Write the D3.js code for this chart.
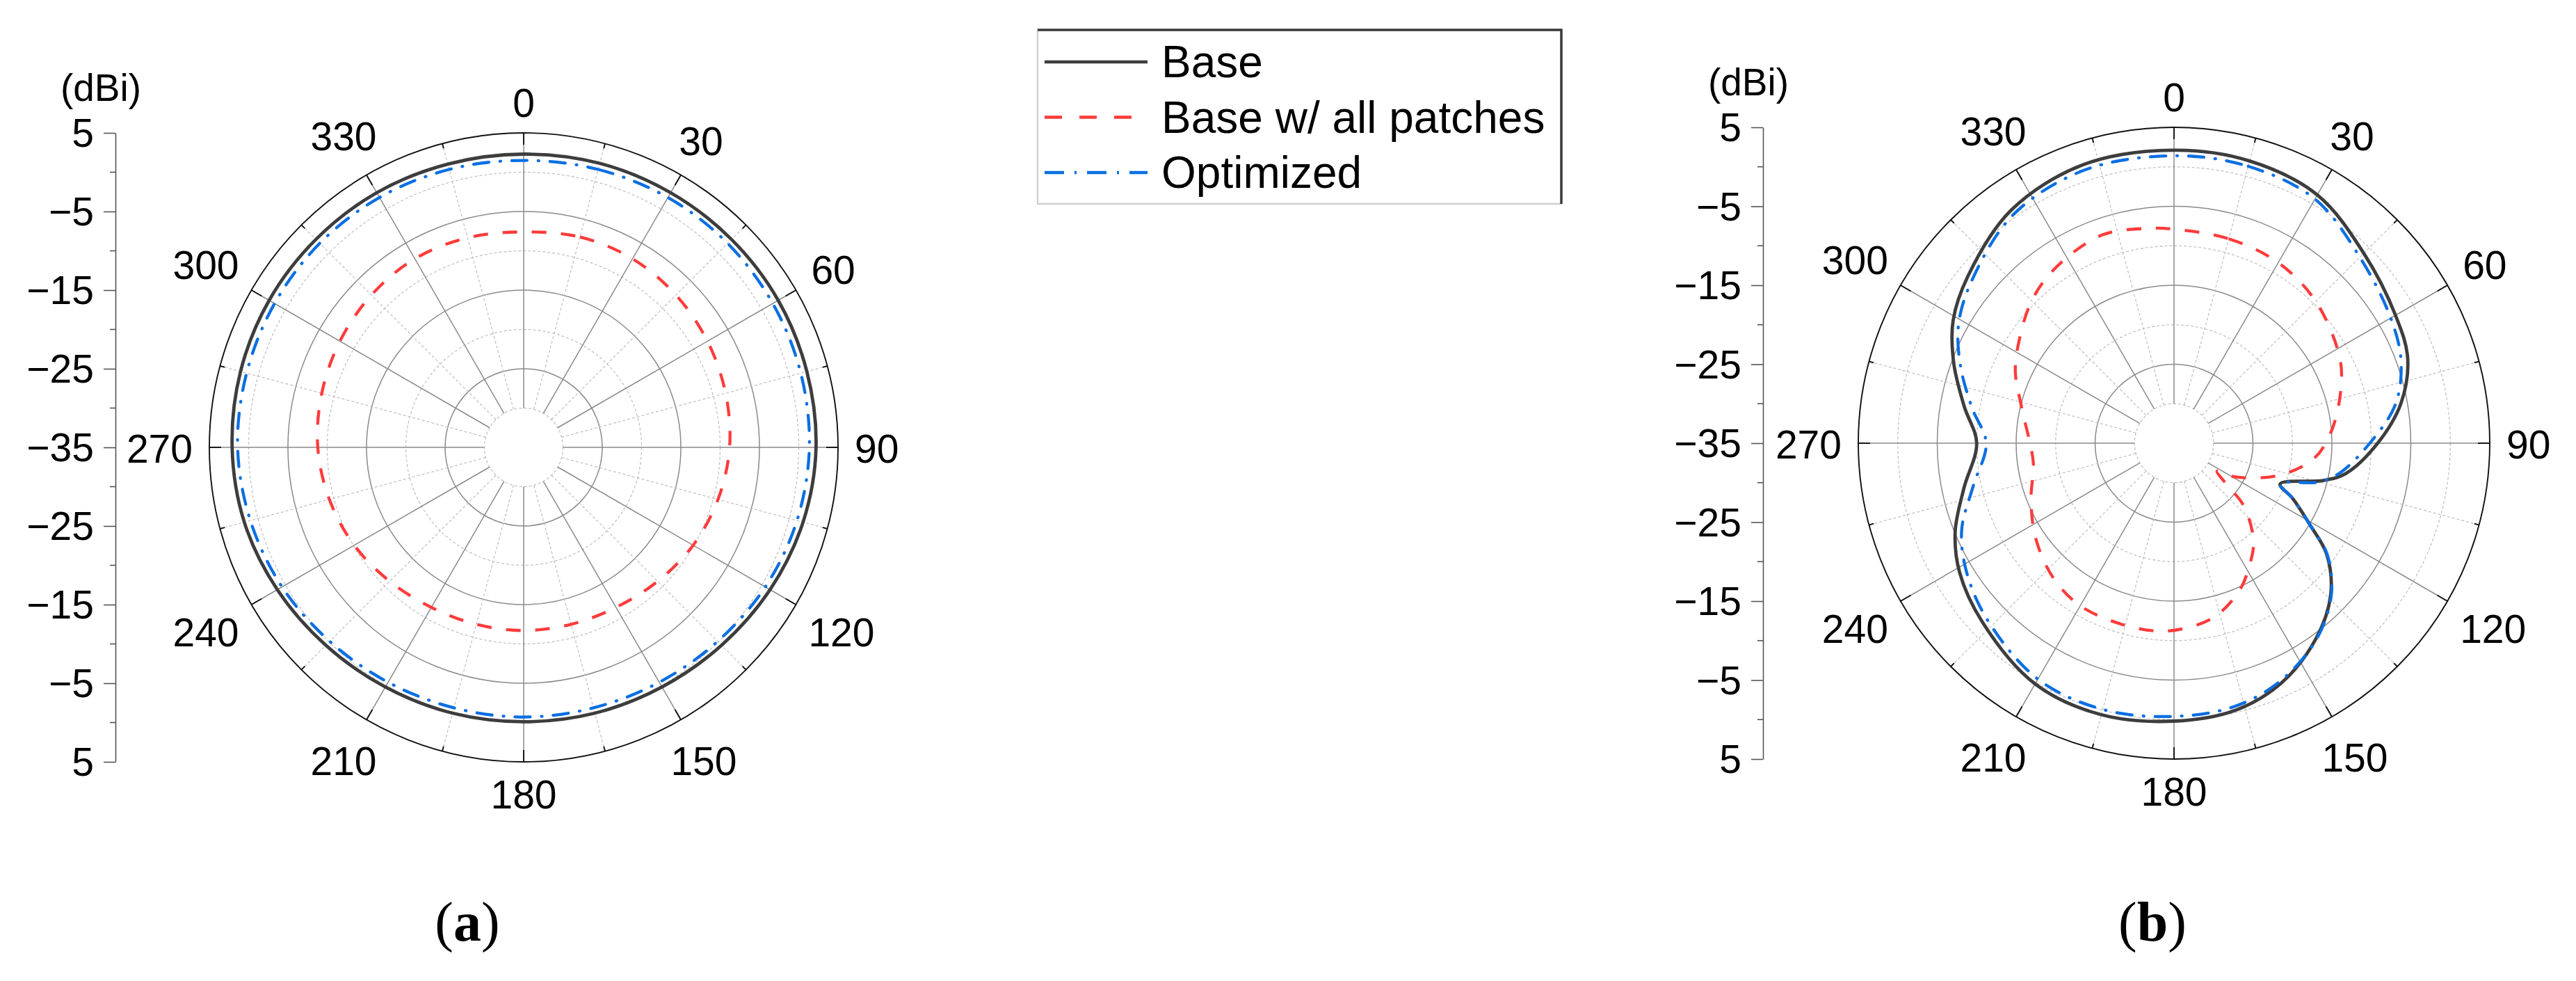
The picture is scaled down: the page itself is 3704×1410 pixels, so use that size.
<!DOCTYPE html>
<html>
<head>
<meta charset="utf-8">
<script src="https://cdn.jsdelivr.net/npm/d3@7"></script>
<style>
  html, body { margin: 0; padding: 0; background: #fff; }
  svg { display: block; }
  text { font-family: "Liberation Sans", Arial, sans-serif; fill: #000; }
</style>
</head>
<body>
<svg id="chart" width="3704" height="1410"></svg>
<script>
// angle labels (deg, clockwise from top) and radial axis labels (top -> bottom)
const angleLabels = d3.range(0, 360, 30);
const radialLabels = [5, -5, -15, -25, -35, -25, -15, -5, 5];
const seriesNames = ["Base", "Base w/ all patches", "Optimized"];

// (a) gain in dBi, sampled every 15 deg
const aAngles = d3.range(0, 360, 15);
const aBase = [2.3, 2.4, 2.4, 2.4, 2.4, 2.3, 2.2, 1.8, 1.2, 0.6, 0.2, 0.0,
               -0.1, 0.0, 0.2, 0.6, 1.2, 1.8, 2.1, 2.3, 2.4, 2.4, 2.4, 2.3];
const aPatches = [-7.6, -7.3, -7.3, -7.6, -8.0, -8.4, -8.8, -9.4, -10.1, -10.9, -11.5, -11.7,
                  -11.7, -11.7, -11.5, -10.9, -10.1, -9.4, -8.8, -8.4, -8.0, -7.6, -7.3, -7.4];
const aOptimized = [1.5, 1.6, 1.7, 1.7, 1.6, 1.5, 1.35, 1.0, 0.5, -0.1, -0.5, -0.7,
                    -0.7, -0.7, -0.5, -0.1, 0.5, 1.0, 1.4, 1.5, 1.6, 1.7, 1.7, 1.6];

// (b) gain in dBi, read at irregular angles
const bBaseAngles = [0, 15, 30, 45, 60, 70, 80, 90, 100, 104, 111, 115, 121, 126, 134, 144, 156, 167,
                     180, 195, 210, 227, 239, 248, 258, 270, 280, 290, 299, 309, 325, 342];
const bBase = [2.1, 2.0, 1.3, -1.0, -2.6, -3.5, -5.8, -9.2, -12.9, -15.5, -20.6, -18.4, -14.9, -11.1, -7.4, -4.4, -1.7, -0.3,
               0.2, 0.6, 0.2, -1.8, -3.3, -5.1, -7.8, -10.0, -8.0, -5.3, -3.0, -1.4, 1.0, 2.1];
const bOptAngles = [0, 15, 30, 45, 60, 70, 80, 90, 100, 105, 111, 115, 121, 126, 134, 144, 156, 167,
                    180, 195, 210, 227, 239, 248, 258, 270, 280, 290, 299, 309, 325, 342];
const bOptimized = [1.4, 1.3, 0.7, -1.7, -3.3, -4.4, -6.5, -10.2, -13.6, -16.0, -20.6, -18.4, -14.9, -11.0, -7.3, -4.3, -2.0, -0.8,
                    -0.4, -0.1, -0.5, -2.5, -4.2, -6.0, -9.0, -11.2, -9.0, -6.2, -3.8, -2.1, 0.4, 1.4];
const bPatchAngles = [0, 15, 30, 45, 62, 71, 85, 96, 107, 119, 123, 128, 132, 141, 149, 156, 167,
                      180, 191, 209, 222, 236, 249, 262, 283, 294, 302, 315, 326, 341, 353];
const bPatches = [-7.9, -8.2, -8.6, -9.6, -11.3, -12.6, -14.9, -17.1, -21.1, -26.2, -28.5, -26.6, -23.1, -19.0, -16.6, -14.6, -12.4,
                  -11.3, -11.1, -11.2, -12.1, -13.8, -15.6, -17.0, -15.2, -13.0, -11.7, -9.5, -8.2, -7.1, -7.6];

const colors = {base: "#3d3d3d", patches: "#ff3b3b", optimized: "#0a6fe2"};

const svg = d3.select("#chart");
const zip = (angles, values) => angles.map((a, i) => ({a, v: values[i]}));
const fmt = d3.format("d");

function drawPolar(cx, cy, R, axisX, series, panel, panelX) {
  const r = d3.scaleLinear().domain([-35, 5]).range([0, R]);
  const rad = d => d * Math.PI / 180;
  const g = svg.append("g").attr("transform", `translate(${cx},${cy})`);

  // rings
  g.selectAll("circle.minor").data([-30, -20, -10, 0]).join("circle")
      .attr("r", d => r(d)).attr("fill", "none")
      .attr("stroke", "#c2c2c2").attr("stroke-width", 1.3).attr("stroke-dasharray", "4,3");
  g.selectAll("circle.major").data([-25, -15, -5]).join("circle")
      .attr("r", d => r(d)).attr("fill", "none")
      .attr("stroke", "#8a8a8a").attr("stroke-width", 1.5);

  // spokes
  const r0 = r(-30);
  g.selectAll("line.minor").data(d3.range(15, 360, 30)).join("line")
      .attr("x1", d => r0 * Math.sin(rad(d))).attr("y1", d => -r0 * Math.cos(rad(d)))
      .attr("x2", d => R * Math.sin(rad(d))).attr("y2", d => -R * Math.cos(rad(d)))
      .attr("stroke", "#c2c2c2").attr("stroke-width", 1.3).attr("stroke-dasharray", "4,3");
  g.selectAll("line.major").data(angleLabels).join("line")
      .attr("x1", d => r0 * Math.sin(rad(d))).attr("y1", d => -r0 * Math.cos(rad(d)))
      .attr("x2", d => R * Math.sin(rad(d))).attr("y2", d => -R * Math.cos(rad(d)))
      .attr("stroke", "#8a8a8a").attr("stroke-width", 1.5);

  // outer circle + ticks
  g.append("circle").attr("r", R).attr("fill", "none").attr("stroke", "#111").attr("stroke-width", 1.9);
  g.selectAll("line.tick").data(d3.range(0, 360, 15)).join("line")
      .attr("x1", d => R * Math.sin(rad(d))).attr("y1", d => -R * Math.cos(rad(d)))
      .attr("x2", d => (R - (d % 30 ? 7 : 17)) * Math.sin(rad(d)))
      .attr("y2", d => -(R - (d % 30 ? 7 : 17)) * Math.cos(rad(d)))
      .attr("stroke", "#111").attr("stroke-width", 1.9);

  // curves
  const line = d3.lineRadial()
      .angle(d => rad(d.a)).radius(d => r(d.v))
      .curve(d3.curveCatmullRomClosed.alpha(0.5));
  g.append("path").datum(series.base).attr("d", line).attr("fill", "none")
      .attr("stroke", colors.base).attr("stroke-width", 4.8);
  g.append("path").datum(series.patches).attr("d", line).attr("fill", "none")
      .attr("stroke", colors.patches).attr("stroke-width", 4.3).attr("stroke-dasharray", "21,21");
  g.append("path").datum(series.optimized).attr("d", line).attr("fill", "none")
      .attr("stroke", colors.optimized).attr("stroke-width", 4.3)
      .attr("stroke-linecap", "round").attr("stroke-dasharray", "22,16,1,16");

  // angle labels
  const gap = 24;
  g.selectAll("text.ang").data(angleLabels).join("text")
      .attr("font-size", 57).attr("text-anchor", "middle").attr("dominant-baseline", "central")
      .text(d => d)
      .each(function (d) {
        const w = this.getComputedTextLength() / 2, h = 21;
        const s = Math.sin(rad(d)), c = Math.cos(rad(d));
        const dist = R + gap + Math.abs(s) * w + Math.abs(c) * h;
        d3.select(this).attr("x", dist * s).attr("y", -dist * c + 2);
      });

  // radial axis on the left
  const y = d3.scaleLinear().domain([0, 80]).range([cy - R, cy + R]);
  const ax = svg.append("g").attr("transform", `translate(${axisX},0)`);
  ax.call(d3.axisLeft(y).tickValues(d3.range(0, 81, 10)).tickSize(17).tickSizeOuter(0)
      .tickPadding(14).tickFormat((t, i) => fmt(radialLabels[i])));
  ax.selectAll("g.minor").data(d3.range(5, 80, 10)).join("line")
      .attr("x1", -8).attr("x2", 0).attr("y1", d => y(d)).attr("y2", d => y(d));
  ax.selectAll("line").attr("stroke", "#555").attr("stroke-width", 1.6);
  ax.select(".domain").attr("stroke", "#555").attr("stroke-width", 1.6);
  ax.selectAll("text").attr("font-size", 57).attr("font-family", "Liberation Sans, Arial, sans-serif")
      .attr("fill", "#000").attr("dy", "0.35em");
  svg.append("text").attr("x", axisX - 21).attr("y", cy - R - 46)
      .attr("text-anchor", "middle").attr("font-size", 55).text("(dBi)");

  // panel label
  const pl = svg.append("text").attr("x", panelX).attr("y", 1352).attr("text-anchor", "middle")
      .style("font-family", "'Liberation Serif', 'Times New Roman', serif").attr("font-size", 80);
  pl.append("tspan").text("(");
  pl.append("tspan").attr("font-weight", "bold").text(panel);
  pl.append("tspan").text(")");
}

drawPolar(753, 643, 452, 166, {
  base: zip(aAngles, aBase),
  patches: zip(aAngles, aPatches),
  optimized: zip(aAngles, aOptimized)
}, "a", 672);

drawPolar(3126, 637, 454, 2535, {
  base: zip(bBaseAngles, bBase),
  patches: zip(bPatchAngles, bPatches),
  optimized: zip(bOptAngles, bOptimized)
}, "b", 3095);

// legend
const lg = svg.append("g");
const lx0 = 1492, lx1 = 2245, ly0 = 43, ly1 = 293;
lg.append("rect").attr("x", lx0).attr("y", ly0).attr("width", lx1 - lx0).attr("height", ly1 - ly0)
    .attr("fill", "#fff").attr("stroke", "#cfcfcf").attr("stroke-width", 2.5);
lg.append("path").attr("d", `M${lx0},${ly0}H${lx1}V${ly1}`).attr("fill", "none")
    .attr("stroke", "#3a3a3a").attr("stroke-width", 3.5);
const legendStyles = [
  {color: colors.base, dash: null},
  {color: colors.patches, dash: "25,25"},
  {color: colors.optimized, dash: "28,15,3,15"}
];
const rows = lg.selectAll("g.row").data(seriesNames).join("g")
    .attr("transform", (d, i) => `translate(0,${89 + i * 79.5})`);
rows.append("line").attr("x1", 1502).attr("x2", 1650)
    .attr("stroke", (d, i) => legendStyles[i].color).attr("stroke-width", 4.5)
    .attr("stroke-dasharray", (d, i) => legendStyles[i].dash);
rows.append("text").attr("x", 1670).attr("y", 22).attr("font-size", 64).text(d => d);
</script>
</body>
</html>
